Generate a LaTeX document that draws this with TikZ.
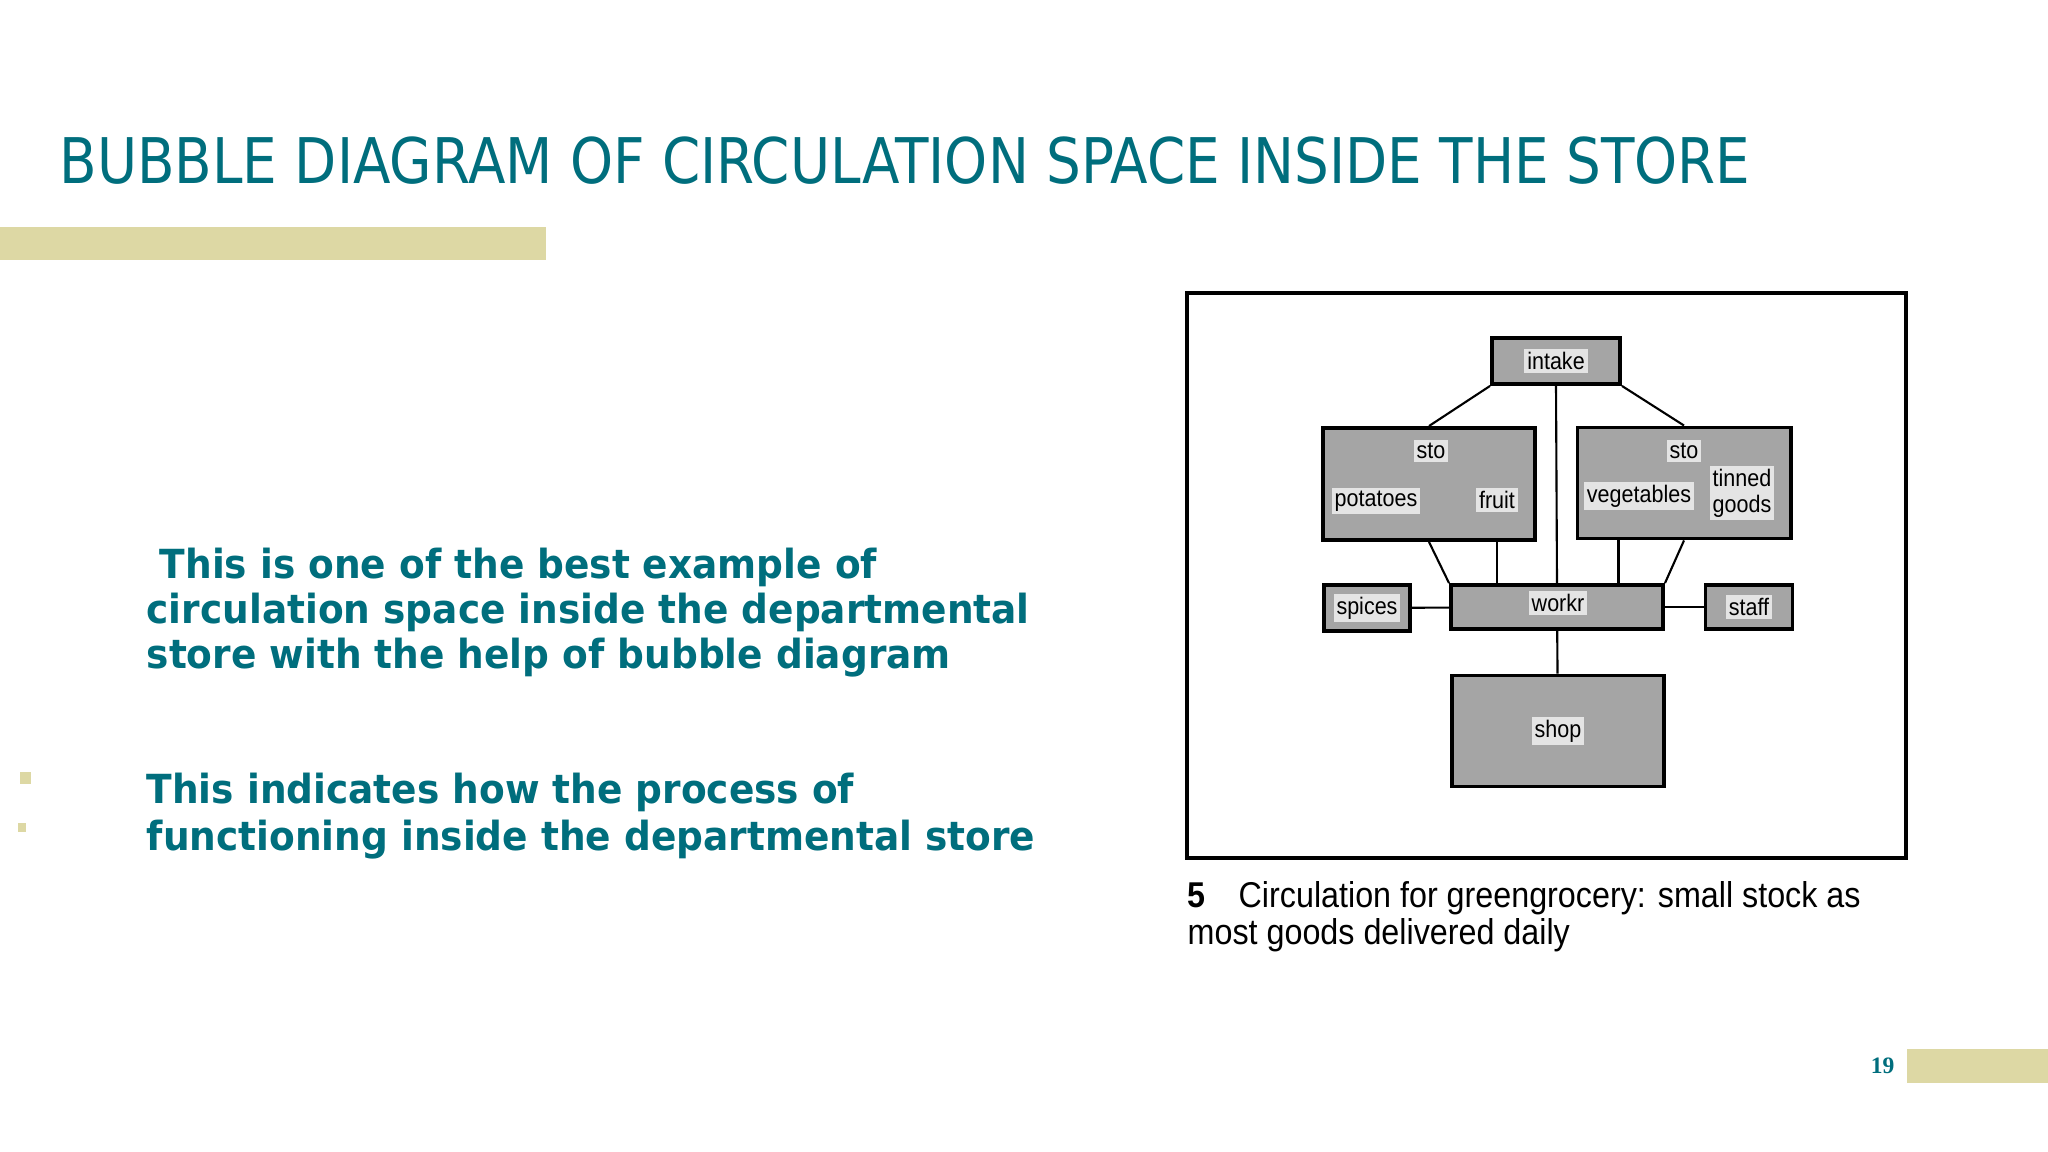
\documentclass[tikz,border=0pt]{standalone}
\usepackage{fontspec}
\usepackage{xcolor}
\setmainfont{Liberation Sans}
\newfontfamily\titlefont[FakeStretch=0.87]{DejaVu Sans}
\newfontfamily\bodyfont[FakeStretch=0.935]{DejaVu Sans}
\newfontfamily\scanfont[FakeStretch=0.9]{Liberation Sans}
\newfontfamily\pagefont{Liberation Serif}
\definecolor{slideteal}{RGB}{0,110,125}
\definecolor{slideolive}{RGB}{221,216,164}
\definecolor{roomgray}{RGB}{165,165,165}
\definecolor{taggray}{RGB}{228,228,228}

\tikzset{
	room/.style={draw=black, line width=1.1pt, fill=roomgray, inner sep=0pt},
	tag/.style={fill=taggray, inner sep=0.8pt, font=\scanfont\fontsize{6.8}{7.4}\selectfont, align=center},
	link/.style={line width=0.6pt}
}

\begin{document}
\begin{tikzpicture}[x=0.01cm, y=-0.01cm]
		\useasboundingbox (0,0) rectangle (2048,1152);
		\fill[white] (0,0) rectangle (2048,1152);
		
		\fill[slideolive] (0,227) rectangle (546,260);
		\fill[slideolive] (1907,1049) rectangle (2048,1083);
		\fill[slideolive] (20,772) rectangle (31,784);
		\fill[slideolive] (18,823) rectangle (26,832);
		
		\node[anchor=base west, inner sep=0pt, text=slideteal, font=\titlefont\fontsize{17.9}{20}\selectfont] (title) at (59,184) {BUBBLE DIAGRAM OF CIRCULATION SPACE INSIDE THE STORE};
		\node[anchor=base west, inner sep=0pt, text=slideteal, align=left, font=\bodyfont\bfseries\fontsize{11.4}{12.8}\selectfont] (point1) at (146,669) {\ This is one of the best example of\\circulation space inside the departmental\\store with the help of bubble diagram};
		\node[anchor=base west, inner sep=0pt, text=slideteal, align=left, font=\bodyfont\bfseries\fontsize{11.4}{13.1}\selectfont] (point2) at (146,850) {This indicates how the process of\\functioning inside the departmental store};
		\node[anchor=base east, inner sep=0pt, text=slideteal, font=\pagefont\bfseries\fontsize{6.7}{7}\selectfont] (pagenum) at (1895,1073) {19};
		
		\draw[line width=0.9pt] (1187,293) rectangle (1906,858);
		
		\node[room, minimum width=1.28cm, minimum height=0.46cm] (intake) at (1556,361) {};
		\node[room, minimum width=2.12cm, minimum height=1.12cm] (lsto) at (1429,484) {};
		\node[room, minimum width=2.13cm, minimum height=1.11cm] (rsto) at (1684,483) {};
		\node[room, minimum width=0.86cm, minimum height=0.46cm] (spices) at (1367,608) {};
		\node[room, minimum width=2.12cm, minimum height=0.44cm] (workr) at (1557,607) {};
		\node[room, minimum width=0.87cm, minimum height=0.44cm] (staff) at (1749,607) {};
		\node[room, minimum width=2.12cm, minimum height=1.11cm] (shop) at (1558,731) {};
		
		\node[tag] (intaketag) at (intake) {intake};
		\node[tag] (lstotag) at (1431,451) {sto};
		\node[tag] (potatoes) at (1376,501) {potatoes};
		\node[tag] (fruit) at (1497,500) {fruit};
		\node[tag] (rstotag) at (1684,451) {sto};
		\node[tag] (vegetables) at (1639,496) {vegetables};
		\node[tag] (tinned) at (1742,493) {tinned\\goods};
		\node[tag] (spicestag) at (spices) {spices};
		\node[tag] (workrtag) at (1558,603) {workr};
		\node[tag] (stafftag) at (staff) {staff};
		\node[tag] (shoptag) at (1558,731) {shop};
		
		\draw[link] (intake.south west) -- (lsto.north);
		\draw[link] (intake.south east) -- (rsto.north);
		\draw[link] (intake.south) -- (workr.north);
		\draw[link] (lsto.south) -- (workr.north west);
		\draw[link] ([xshift=-0.4cm]lsto.south east) coordinate (lfruit) -- (lfruit |- workr.north);
		\draw[link] ([xshift=0.43cm]rsto.south west) coordinate (rveg) -- (rveg |- workr.north);
		\draw[link] (rsto.south) -- (workr.north east);
		\draw[link] (spices) -- (workr);
		\draw[link] (workr) -- (staff);
		\draw[link] (workr) -- (shop);
		
		\node[anchor=base west, inner sep=0pt, align=left, font=\scanfont\fontsize{10.2}{10.25}\selectfont] (caption) at (1187,944) {\textbf{5}\hspace{0.33cm}Circulation for greengrocery: small stock as\\most goods delivered daily};
	\end{tikzpicture}
\end{document}
